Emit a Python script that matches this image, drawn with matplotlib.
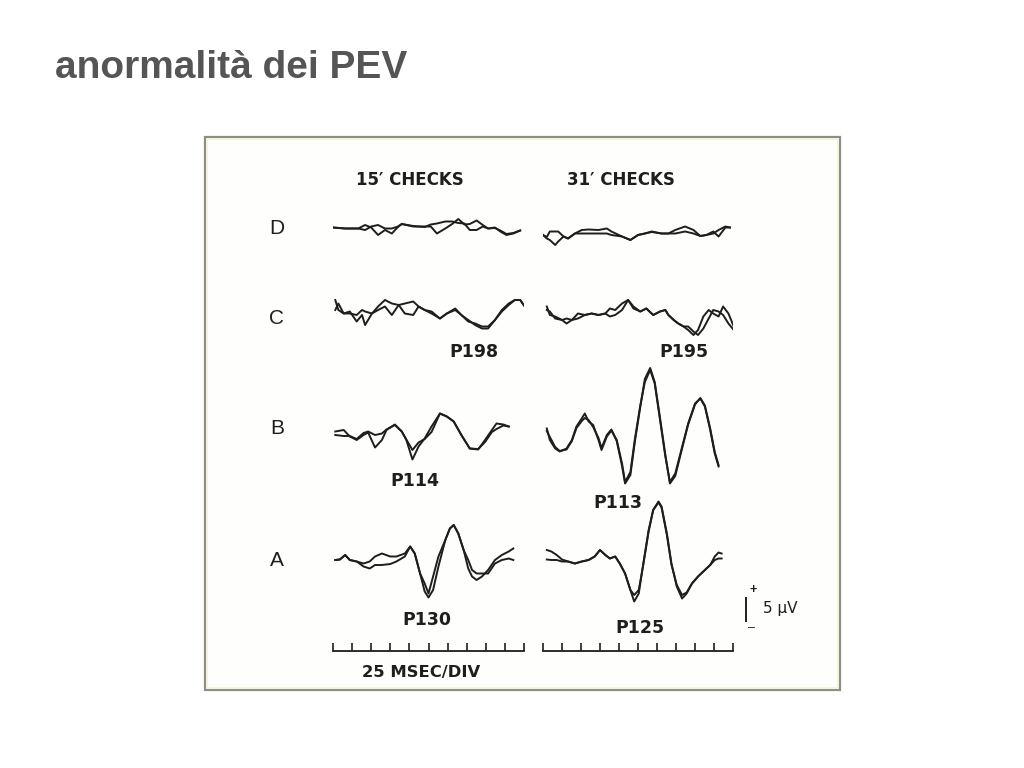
import matplotlib.pyplot as plt
from matplotlib.patches import Rectangle

W, H = 1024, 768

# Time in ms (25 ms/div), amplitude in microvolts; two superimposed runs per record.
# Row D
d15_t = [0, 16, 33, 42, 50, 59, 68, 77, 85, 90, 105, 120, 128, 136, 147, 156, 164, 172, 179, 188, 196, 203, 212, 219, 227, 236, 245]
d15_a = [0.3, 0.1, 0.1, 0.8, 0.3, -1.2, -0.2, -0.9, 0.4, 1.0, 0.5, 0.5, 0.5, -0.9, 0.1, 1.0, 2.0, 0.9, 1.0, 1.7, 0.8, 0.1, 0.3, -0.5, -1.2, -0.9, -0.3]
d15_b = [0.3, 0.1, 0.1, -0.2, 0.5, 0.8, 0.1, 0.1, 0.5, 1.0, 0.6, 0.4, 0.9, 1.1, 1.5, 1.5, 1.2, 1.1, -0.2, -0.2, 0.5, 0.1, 0.2, -0.3, -1.0, -0.8, -0.3]

d31_t = [0, 5, 9, 16, 20, 27, 33, 42, 51, 60, 73, 84, 90, 104, 115, 125, 134, 143, 156, 165, 174, 187, 198, 207, 215, 224, 231, 240, 246]
d31_a = [-1.2, -1.6, -0.5, -0.5, -0.5, -1.5, -1.9, -0.9, -0.2, -0.1, -0.2, 0.1, -0.5, -1.5, -2.2, -1.2, -0.9, -0.5, -0.9, -0.9, -0.2, 0.5, -0.2, -1.4, -1.2, -0.9, -0.2, 0.5, 0.3]
d31_b = [-1.2, -1.9, -2.2, -3.2, -2.5, -1.5, -1.9, -0.9, -0.9, -0.9, -0.9, -0.9, -1.2, -1.5, -2.2, -1.2, -0.9, -0.6, -0.9, -0.9, -0.9, -0.5, -0.9, -1.4, -1.2, -0.5, -1.5, 0.3, 0.3]

# Row C
c15_t = [3, 7, 14, 22, 31, 38, 42, 51, 59, 68, 77, 86, 94, 105, 112, 120, 129, 140, 149, 160, 168, 177, 186, 195, 203, 212, 221, 230, 238, 245, 251]
c15_a = [3.0, 1.0, 0.3, 0.7, -1.3, 0.0, -2.0, 0.3, 1.7, 3.0, 2.3, 2.0, 2.3, 2.7, 1.7, 1.0, 0.7, -0.7, 0.3, 1.3, 0.0, -1.0, -2.0, -2.7, -2.7, -1.0, 1.0, 2.3, 3.0, 3.0, 1.7]
c15_b = [1.0, 2.3, 0.3, 0.3, 0.0, 1.0, 0.7, 0.3, 1.0, 1.7, 0.0, 2.0, 0.3, 0.0, 1.7, 1.0, 0.3, -0.7, 0.3, 1.0, 0.0, -1.3, -1.7, -2.3, -2.3, -1.0, 0.7, 2.0, 3.0, 3.0, 1.7]

c31_t = [5, 9, 16, 25, 31, 38, 46, 55, 64, 73, 82, 88, 95, 104, 112, 119, 128, 136, 145, 154, 161, 165, 172, 178, 185, 191, 198, 204, 211, 218, 224, 231, 237, 244, 251, 257]
c31_a = [1.7, 0.0, -0.3, -1.0, -1.7, -1.0, -0.7, 0.0, 0.3, 0.0, 0.3, 1.3, 1.0, 2.3, 3.0, 1.3, 0.7, 1.3, 0.0, 0.7, 1.0, 0.0, -1.0, -1.7, -2.3, -3.0, -4.0, -3.0, -0.3, 1.0, 0.3, -0.3, 1.7, 0.3, -2.3, 0.0]
c31_b = [1.0, 0.7, -0.7, -1.0, -0.7, -1.0, 0.3, 0.0, 0.3, 0.0, 0.3, -0.3, 0.0, 1.0, 3.0, 1.7, 0.7, 1.3, 0.0, 0.7, 1.0, 0.0, -1.0, -1.7, -2.3, -2.3, -3.3, -4.0, -2.7, -0.7, 1.0, 0.7, 0.0, -1.7, -3.0, 0.0]

# Row B
b15_t = [3, 14, 22, 31, 40, 46, 55, 64, 70, 81, 90, 96, 104, 112, 120, 129, 140, 149, 158, 168, 179, 190, 199, 208, 214, 223, 230]
b15_a = [0.1, 0.4, -0.9, -1.6, -0.6, -0.1, -3.1, -1.6, 0.4, 1.5, 0.1, -1.6, -5.5, -2.9, -1.3, 1.1, 3.7, 3.1, 2.1, -0.6, -3.3, -3.5, -1.6, 0.4, 1.7, 1.5, 1.1]
b15_b = [-0.6, -0.8, -0.8, -1.4, -0.2, 0.1, -0.6, -0.3, 0.5, 1.4, 0.1, -1.5, -3.6, -2.1, -1.4, 0.0, 3.7, 3.1, 2.1, -0.6, -3.3, -3.4, -2.0, 0.0, 0.6, 1.3, 1.1]

b31_t = [5, 9, 16, 22, 31, 38, 44, 51, 55, 60, 66, 73, 77, 84, 90, 97, 104, 108, 115, 121, 128, 134, 141, 147, 154, 161, 167, 174, 183, 191, 200, 207, 213, 220, 226, 231]
b31_a = [0.7, -1.6, -3.3, -3.9, -3.3, -1.6, 1.1, 2.7, 3.7, 2.1, 1.4, -1.6, -3.6, -0.9, 0.3, -1.6, -6.3, -10.0, -8.0, -1.3, 5.3, 10.0, 12.4, 9.7, 2.4, -4.9, -10.0, -8.3, -3.0, 1.7, 5.7, 6.7, 5.1, 0.4, -4.3, -6.9]
b31_b = [0.2, -1.0, -3.0, -3.8, -3.5, -1.8, 0.8, 2.2, 2.8, 2.4, 1.0, -1.2, -3.2, -0.6, 0.5, -1.8, -6.8, -10.3, -8.6, -1.8, 5.0, 10.6, 12.8, 10.0, 2.8, -4.6, -10.3, -8.8, -3.3, 1.5, 5.5, 6.8, 5.3, 0.7, -4.0, -6.6]

# Row A
a15_t = [3, 9, 16, 22, 31, 40, 48, 55, 64, 75, 83, 94, 101, 107, 114, 120, 125, 131, 138, 147, 153, 158, 164, 171, 177, 182, 188, 195, 203, 212, 221, 230, 236]
a15_a = [0.0, 0.1, 1.0, 0.0, -0.3, -1.3, -1.7, -1.0, -1.0, -0.8, -0.3, 0.7, 2.7, 1.3, -2.7, -6.3, -7.5, -6.0, -1.3, 4.0, 6.3, 7.0, 5.3, 2.0, -1.7, -3.3, -4.0, -3.3, -2.0, 0.0, 1.0, 1.7, 2.3]
a15_b = [0.0, 0.1, 1.0, 0.0, -0.3, -0.7, -0.3, 0.7, 1.3, 0.7, 0.7, 1.3, 2.7, 1.3, -2.7, -4.7, -6.7, -3.3, 0.7, 4.0, 6.3, 7.0, 5.3, 2.0, 0.0, -2.0, -2.7, -2.7, -2.7, -0.7, 0.0, 0.3, 0.0]

a31_t = [5, 11, 18, 25, 33, 42, 51, 60, 68, 75, 82, 88, 95, 101, 108, 115, 120, 126, 132, 139, 145, 152, 156, 163, 169, 176, 183, 189, 196, 204, 213, 220, 226, 231, 235]
a31_a = [2.0, 1.7, 1.0, 0.1, -0.3, -0.7, -0.3, 0.0, 0.7, 2.0, 1.0, 0.3, 0.7, -0.7, -2.7, -6.0, -8.3, -6.7, -0.7, 6.0, 10.0, 11.7, 10.7, 5.3, -0.7, -5.3, -7.7, -6.7, -4.7, -3.3, -2.0, -1.0, 0.7, 1.5, 1.3]
a31_b = [0.1, 0.0, 0.0, -0.3, -0.3, -0.7, -0.3, 0.0, 0.7, 2.0, 1.0, 0.3, 0.7, -0.7, -2.7, -6.0, -7.0, -6.0, -0.9, 5.7, 10.0, 11.5, 10.5, 5.0, -0.9, -5.0, -7.0, -6.5, -4.7, -3.3, -2.0, -1.0, 0.0, 0.3, 0.3]

row_labels = ['D', 'C', 'B', 'A']
column_titles = ["15\u2032 CHECKS", "31\u2032 CHECKS"]
peak_labels_15 = ['P198', 'P114', 'P130']
peak_labels_31 = ['P195', 'P113', 'P125']
SCALE_UV = 5
MS_PER_DIV = 25

records_15 = [(d15_t, d15_a, d15_b), (c15_t, c15_a, c15_b), (b15_t, b15_a, b15_b), (a15_t, a15_a, a15_b)]
records_31 = [(d31_t, d31_a, d31_b), (c31_t, c31_a, c31_b), (b31_t, b31_a, b31_b), (a31_t, a31_a, a31_b)]

# vertical offset of each row (uV) inside a column
row_offsets = [66.2, 49.0, 25.6, 0.0]

FONT = 'Liberation Sans'
LABEL_FONT = 'DejaVu Sans'  # wider letters, closer to the spaced typewriter lettering
INK = '#1e1e1e'


def px_box(left, top, right, bottom):
    return [left / W, 1 - bottom / H, (right - left) / W, (bottom - top) / H]


def ftext(x, y, s, **kw):
    kw.setdefault('family', FONT)
    kw.setdefault('color', INK)
    fig.text(x / W, 1 - y / H, s, **kw)


fig = plt.figure(figsize=(W / 100, H / 100), dpi=100)
fig.patch.set_facecolor('white')

# scanned panel frame
fig.patches.append(Rectangle((205 / W, 1 - 690 / H), 635 / W, 553 / H, transform=fig.transFigure,
                             facecolor='#fefefc', edgecolor='#8e8e86', linewidth=1.6, zorder=-2))
fig.patches.append(Rectangle((207 / W, 1 - 688 / H), 631 / W, 549 / H, transform=fig.transFigure,
                             facecolor='none', edgecolor='#f4f4d8', linewidth=1.2, zorder=-1))

ax15 = fig.add_axes(px_box(333, 140, 524, 690))
ax31 = fig.add_axes(px_box(543, 140, 733, 690))

for ax, records in [(ax15, records_15), (ax31, records_31)]:
    ax.patch.set_alpha(0)
    for (t, a, b), off in zip(records, row_offsets):
        ax.plot(t, [v + off for v in a], color=INK, linewidth=1.4, solid_joinstyle='round')
        ax.plot(t, [v + off for v in b], color=INK, linewidth=1.4, solid_joinstyle='round')
    ax.set_xlim(0, 250)
    ax.set_ylim(-26, 84)
    for s in ['top', 'left', 'right']:
        ax.spines[s].set_visible(False)
    ax.spines['bottom'].set_position(('data', -18.2))
    ax.spines['bottom'].set_bounds(0, 250)
    ax.spines['bottom'].set_linewidth(1.3)
    ax.spines['bottom'].set_color(INK)
    ax.set_xticks(range(0, 251, MS_PER_DIV))
    ax.set_yticks([])
    ax.tick_params(axis='x', direction='in', length=6, width=1.2, color=INK, labelbottom=False)

# 5 uV calibration bar
ax31.vlines(267, -12.4, -12.4 + SCALE_UV, color=INK, linewidth=1.4, clip_on=False)

# title
ftext(55, 68, 'anormalit\u00e0 dei PEV', fontsize=28, fontweight='bold', color='#555555', va='center')

# column headings
ftext(410, 180, column_titles[0], family=LABEL_FONT, fontsize=12, fontweight='bold', ha='center', va='center')
ftext(621, 180, column_titles[1], family=LABEL_FONT, fontsize=12, fontweight='bold', ha='center', va='center')

# row letters
for lab, y in zip(row_labels, [228, 318, 428, 560]):
    ftext(277, y, lab, fontsize=15, ha='center', va='center')

# peak latency labels
for lab, (x, y) in zip(peak_labels_15, [(474, 352), (415, 481), (427, 620)]):
    ftext(x, y, lab, family=LABEL_FONT, fontsize=12.5, fontweight='bold', ha='center', va='center')
for lab, (x, y) in zip(peak_labels_31, [(684, 352), (618, 503), (640, 628)]):
    ftext(x, y, lab, family=LABEL_FONT, fontsize=12.5, fontweight='bold', ha='center', va='center')

ftext(421, 673, f'{MS_PER_DIV} MSEC/DIV', family=LABEL_FONT, fontsize=11.8, fontweight='bold',
      ha='center', va='center')
ftext(780, 609, f'{SCALE_UV} \u00b5V', family=LABEL_FONT, fontsize=11, ha='center', va='center')
ftext(753, 590, '+', fontsize=9, fontweight='bold', ha='center', va='center')
ftext(752, 628, '\u2013', fontsize=9, ha='center', va='center')

fig.savefig('out.png', dpi=100)
